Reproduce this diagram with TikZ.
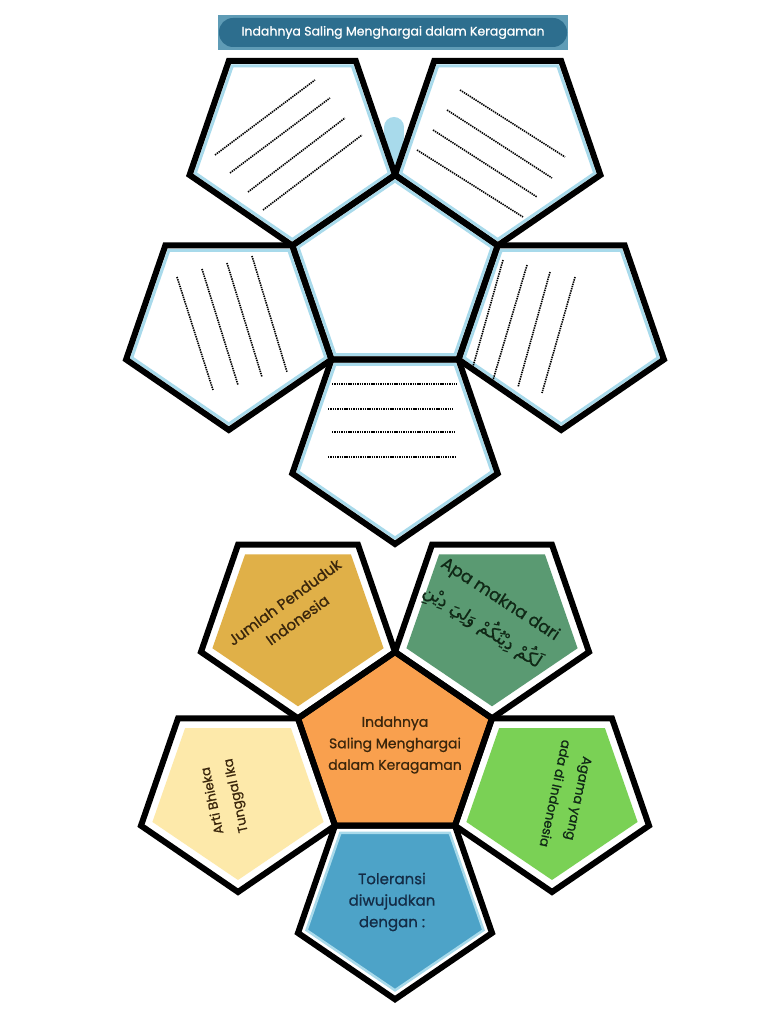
\documentclass[tikz,border=0pt]{standalone}
\usepackage{fontspec}
\setmainfont{Poppins}[FakeBold=0.8]
\newfontfamily\arabicfont[Script=Arabic,FakeBold=0.5]{DejaVu Sans}
\TeXXeTstate=1
\definecolor{rimblue}{RGB}{168,218,235}
\definecolor{titlebar}{RGB}{45,110,142}
\definecolor{titleback}{RGB}{95,156,182}
\definecolor{face1}{RGB}{224,176,72}
\definecolor{face2}{RGB}{90,154,114}
\definecolor{face3}{RGB}{249,160,78}
\definecolor{face4}{RGB}{253,233,170}
\definecolor{face5}{RGB}{122,209,85}
\definecolor{face6}{RGB}{77,163,200}
\definecolor{ink1}{RGB}{58,38,12}
\definecolor{ink2}{RGB}{16,40,22}
\definecolor{ink3}{RGB}{20,44,70}
% pentagon path: center, radii, first corner angle
\newcommand{\pentpath}[3]{([shift={(#1)}]#3:#2) -- ([shift={(#1)}]#3+72:#2) -- ([shift={(#1)}]#3+144:#2) -- ([shift={(#1)}]#3+216:#2) -- ([shift={(#1)}]#3+288:#2) -- cycle}

\begin{document}
\begin{tikzpicture}[x=1pt, y=1pt, every node/.style={align=center, inner sep=0pt},
  pentedge/.style={draw=black, line width=6pt},
  pentrim/.style={draw=rimblue, line width=3pt},
  wline/.style={line width=1.6pt, dash pattern=on 1.4pt off 0.9pt}]
\useasboundingbox (0,0) rectangle (768,1024);

% Title
\fill[titleback] (218,974) rectangle (568,1009);
\node[fill=titlebar, rounded corners=14pt, minimum width=348pt, minimum height=29pt, text=white, font=\fontsize{12.5}{15}\selectfont] (title) at (393,991.5) {Indahnya Saling Menghargai dalam Keragaman};

% Points
\coordinate (tc) at (395,747);
\coordinate (tb) at (395,582);
\coordinate (tul) at (292.3,880.5);
\coordinate (tur) at (497.7,880.5);
\coordinate (tl) at (228.8,696);
\coordinate (tr) at (561.2,696);

\coordinate (bc) at (395,276);
\coordinate (bb) at (395,120.7);
\coordinate (bul) at (298,401.7);
\coordinate (bur) at (492,401.7);
\coordinate (bl) at (238,228);
\coordinate (br) at (552,228);

%Faces
\fill[rimblue] (385,850) -- (384,897) arc[start angle=180, end angle=0, radius=10pt] -- (403,850) -- cycle;
\fill[white] \pentpath{tc}{108 and 102}{90};
\fill[white] \pentpath{tb}{108 and 102}{-90};
\fill[white] \pentpath{tul}{108 and 102}{-90};
\fill[white] \pentpath{tur}{108 and 102}{-90};
\fill[white] \pentpath{tl}{108 and 102}{-90};
\fill[white] \pentpath{tr}{108 and 102}{-90};
\draw[pentrim] \pentpath{tc}{102 and 96}{90};
\draw[pentrim] \pentpath{tb}{102 and 96}{-90};
\draw[pentrim] \pentpath{tul}{102 and 96}{-90};
\draw[pentrim] \pentpath{tur}{102 and 96}{-90};
\draw[pentrim] \pentpath{tl}{102 and 96}{-90};
\draw[pentrim] \pentpath{tr}{102 and 96}{-90};

\fill[white] \pentpath{bb}{102 and 96}{-90};
\fill[white] \pentpath{bul}{102 and 96}{-90};
\fill[white] \pentpath{bur}{102 and 96}{-90};
\fill[white] \pentpath{bl}{102 and 96}{-90};
\fill[white] \pentpath{br}{102 and 96}{-90};
\fill[face3] \pentpath{bc}{102 and 96}{90};
\fill[face1] \pentpath{bul}{90 and 84}{-90};
\fill[face2] \pentpath{bur}{90 and 84}{-90};
\fill[face4] \pentpath{bl}{90 and 84}{-90};
\fill[face5] \pentpath{br}{90 and 84}{-90};
\filldraw[fill=face6, draw=rimblue, line width=2.5pt] \pentpath{bb}{93 and 87}{-90};

%Lines
\draw[pentedge] \pentpath{tc}{108 and 102}{90};
\draw[pentedge] \pentpath{tb}{108 and 102}{-90};
\draw[pentedge] \pentpath{tul}{108 and 102}{-90};
\draw[pentedge] \pentpath{tur}{108 and 102}{-90};
\draw[pentedge] \pentpath{tl}{108 and 102}{-90};
\draw[pentedge] \pentpath{tr}{108 and 102}{-90};

\draw[pentedge] \pentpath{bc}{102 and 96}{90};
\draw[pentedge] \pentpath{bb}{102 and 96}{-90};
\draw[pentedge] \pentpath{bul}{102 and 96}{-90};
\draw[pentedge] \pentpath{bur}{102 and 96}{-90};
\draw[pentedge] \pentpath{bl}{102 and 96}{-90};
\draw[pentedge] \pentpath{br}{102 and 96}{-90};

% Writing lines
\draw[wline] (215,869) -- (315,944);
\draw[wline] (230,851) -- (330,926);
\draw[wline] (248,832) -- (345,906);
\draw[wline] (263,814) -- (362,889);

\draw[wline] (460,934) -- (565,867);
\draw[wline] (447,914) -- (552,846);
\draw[wline] (433,894) -- (537,827);
\draw[wline] (417,874) -- (523,807);

\draw[wline] (177,747) -- (213,634);
\draw[wline] (202,755) -- (238,639);
\draw[wline] (227,761) -- (262,647);
\draw[wline] (252,768) -- (287,652);

\draw[wline] (503,764) -- (472,654);
\draw[wline] (527,759) -- (493,644);
\draw[wline] (550,752) -- (518,637);
\draw[wline] (575,747) -- (542,631);

\draw[wline] (332,640) -- (457,640);
\draw[wline] (328,615) -- (453,615);
\draw[wline] (332,592) -- (455,592);
\draw[wline] (328,567) -- (455,567);

% Texts
\node[rotate=36, text=ink1, font=\fontsize{15}{22}\selectfont] (jumlah) at (291,413) {Jumlah Penduduk\\Indonesia};
\node[rotate=-33, text=ink2, font=\fontsize{17}{33}\selectfont] (makna) at (490,409) {Apa makna dari\\{\arabicfont\fontsize{17.5}{33}\selectfont\beginR لَكُمْ دِيْنُكُمْ وَلِيَ دِيْنِ\endR}};
\node[text=ink1, font=\fontsize{14}{21.5}\selectfont] (judul) at (395,279) {Indahnya\\Saling Menghargai\\dalam Keragaman};
\node[rotate=102, text=ink1, font=\fontsize{13}{24}\selectfont] (arti) at (225,226) {Arti Bhieka\\Tunggal Ika};
\node[rotate=-102, text=ink2, font=\fontsize{13}{24}\selectfont] (agama) at (567,228) {Agama yang\\ada di Indonesia};
\node[text=ink3, font=\fontsize{15}{21.5}\selectfont] (toleransi) at (392,122) {Toleransi\\diwujudkan\\dengan :};
\end{tikzpicture}
\end{document}
